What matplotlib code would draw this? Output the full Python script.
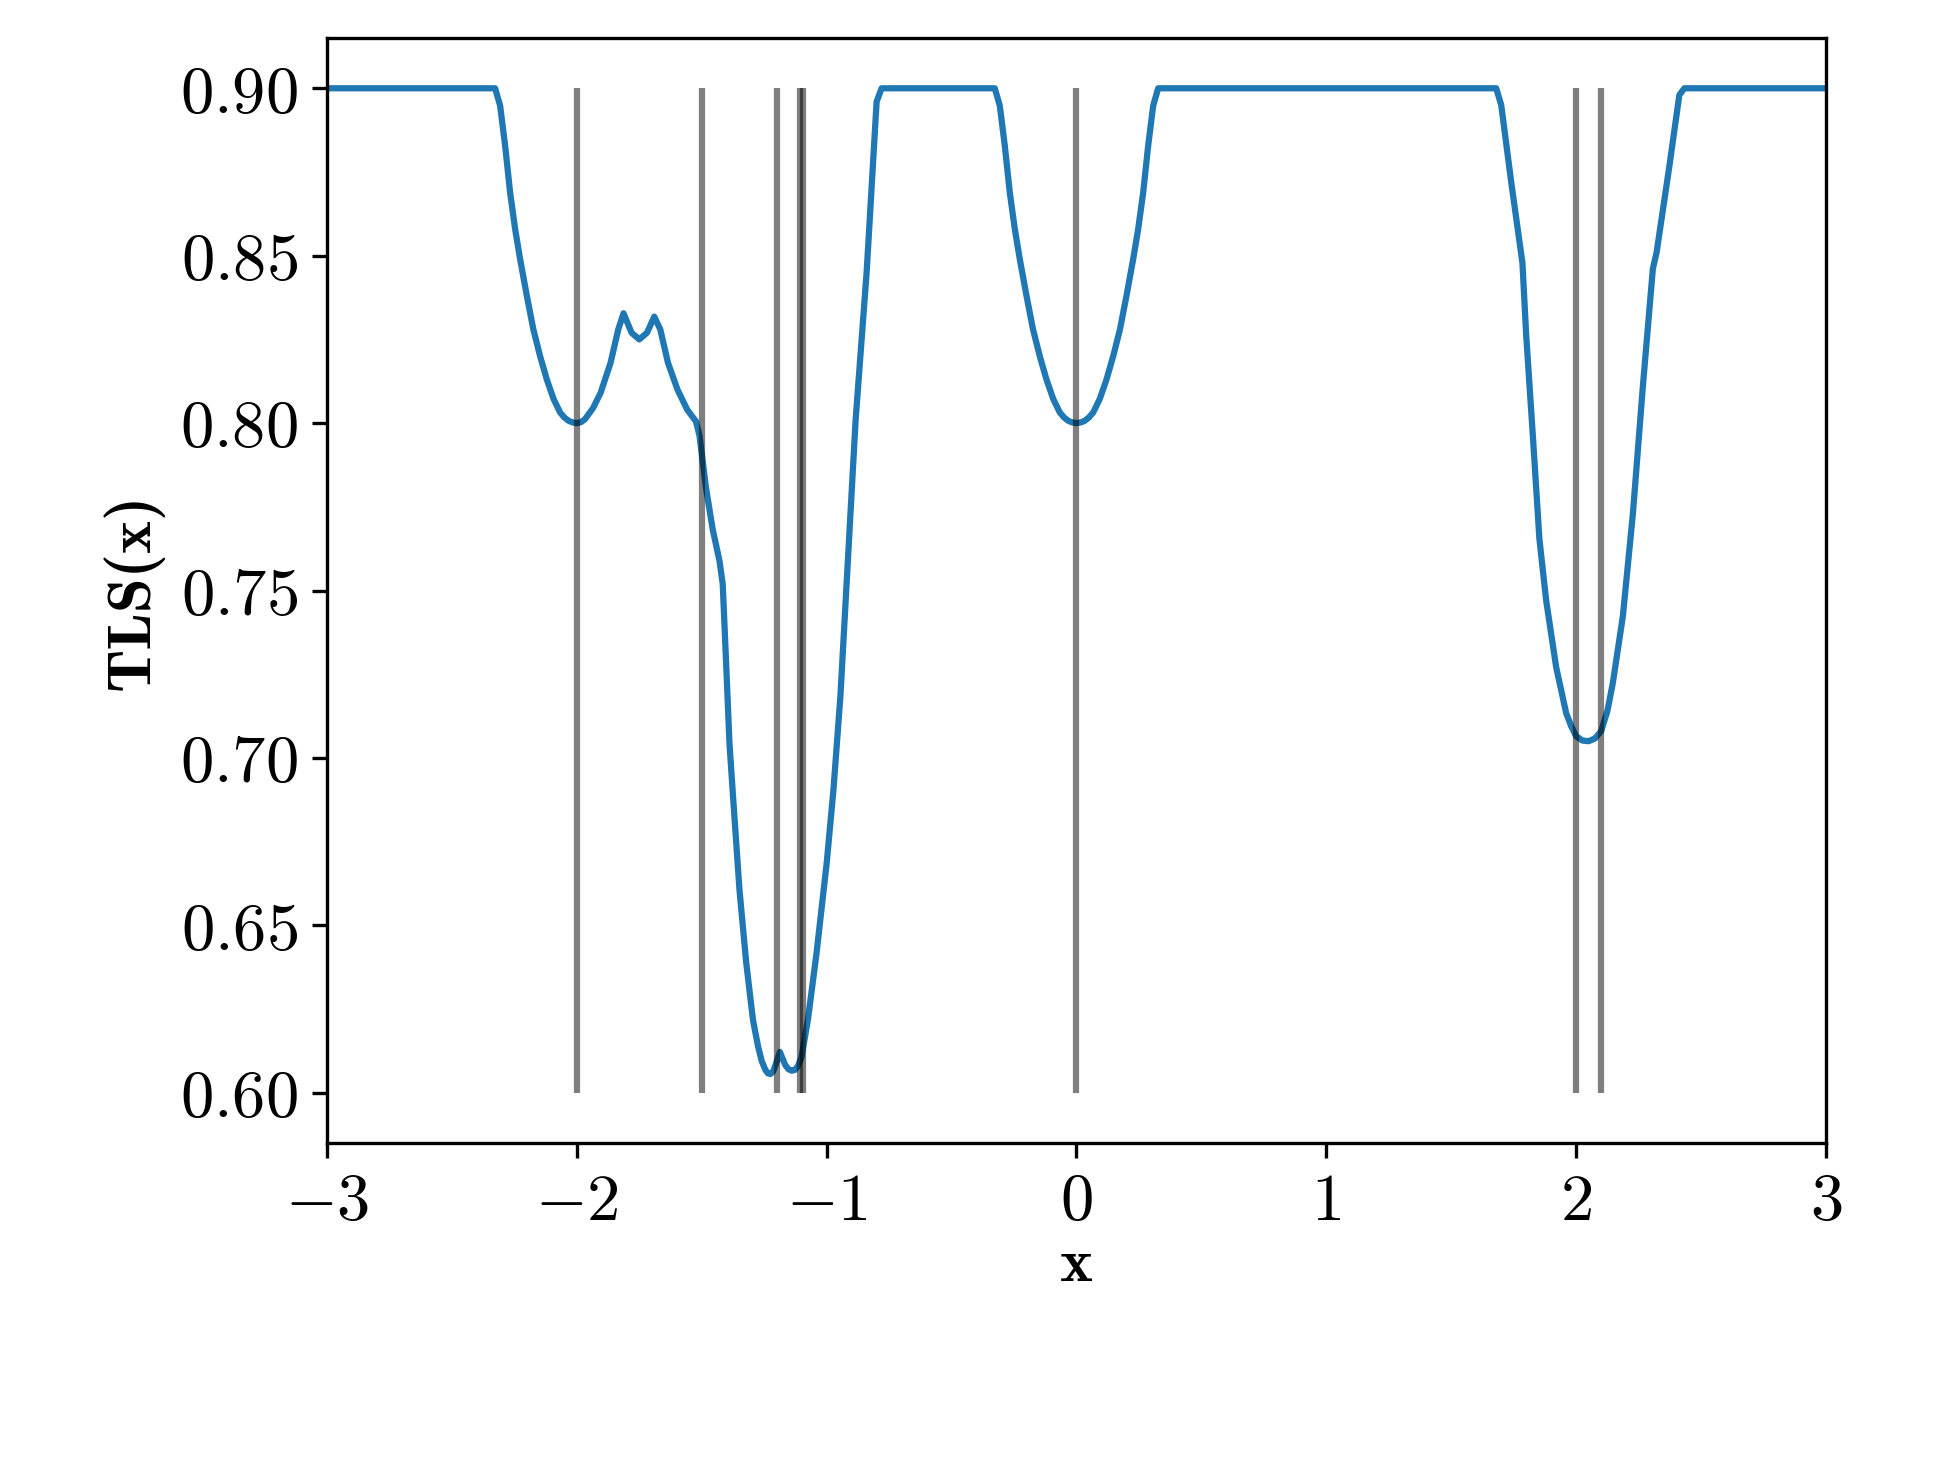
import matplotlib
matplotlib.use("Agg")
import matplotlib.pyplot as plt

# TLS(x) curve
x_vals = [-3.0, -2.327, -2.307, -2.287, -2.267, -2.247, -2.227, -2.200, -2.174,
          -2.147, -2.120, -2.093, -2.067, -2.050, -2.033, -2.017, -2.0,
          -1.983, -1.967, -1.935, -1.905, -1.865, -1.834, -1.813, -1.781, -1.750,
          -1.719, -1.690, -1.666, -1.635, -1.597, -1.558, -1.523,
          -1.509, -1.483, -1.456, -1.429, -1.416, -1.402, -1.389, -1.375, -1.349,
          -1.322, -1.295, -1.275, -1.260, -1.245, -1.235, -1.225, -1.215, -1.205,
          -1.195, -1.187, -1.178, -1.165, -1.152, -1.140, -1.128, -1.115, -1.101,
          -1.075, -1.040, -1.000, -0.973, -0.945, -0.915, -0.884, -0.840, -0.800,
          -0.780,
          -0.327, -0.307, -0.287, -0.267, -0.247, -0.227, -0.200, -0.174, -0.147,
          -0.120, -0.093, -0.067, -0.050, -0.033, -0.017, 0.0, 0.017, 0.033, 0.050,
          0.067, 0.093, 0.120, 0.147, 0.174, 0.200, 0.227, 0.247, 0.267, 0.287,
          0.307, 0.327,
          1.680, 1.700, 1.740, 1.785, 1.800, 1.827, 1.853, 1.880, 1.920, 1.960,
          1.980, 2.000, 2.025, 2.050, 2.075, 2.100, 2.125, 2.147, 2.187, 2.227,
          2.267, 2.307, 2.322, 2.373, 2.413, 2.433, 3.0]
tls_vals = [0.9, 0.9, 0.8948, 0.8829, 0.8689, 0.858, 0.849, 0.838, 0.828,
            0.820, 0.813, 0.8072, 0.8032, 0.8017, 0.8007, 0.8002, 0.800,
            0.8003, 0.8012, 0.8045, 0.809, 0.818, 0.828, 0.8328, 0.8270, 0.8250,
            0.8270, 0.8318, 0.828, 0.818, 0.810, 0.804, 0.8005,
            0.7963, 0.7807, 0.7682, 0.7589, 0.7519, 0.7277, 0.7044, 0.6888, 0.6607,
            0.6389, 0.6218, 0.6140, 0.6095, 0.6068, 0.6058, 0.6056, 0.6063, 0.6082,
            0.6105, 0.6122, 0.6105, 0.6082, 0.6070, 0.6066, 0.6068, 0.6080, 0.6105,
            0.6218, 0.6420, 0.6685, 0.6903, 0.7184, 0.7589, 0.8010, 0.8450, 0.8960,
            0.9,
            0.9, 0.8948, 0.8829, 0.8689, 0.858, 0.849, 0.838, 0.828, 0.820,
            0.813, 0.8072, 0.8032, 0.8017, 0.8007, 0.8002, 0.800, 0.8002, 0.8007, 0.8017,
            0.8032, 0.8072, 0.813, 0.820, 0.828, 0.838, 0.849, 0.858, 0.8689, 0.8829,
            0.8948, 0.9,
            0.9, 0.895, 0.872, 0.8478, 0.8263, 0.7958, 0.7653, 0.747, 0.7271, 0.7134,
            0.7095, 0.7065, 0.7052, 0.7050, 0.7058, 0.7080, 0.7140, 0.7225, 0.7424, 0.7729,
            0.811, 0.8461, 0.8510, 0.8767, 0.898, 0.9, 0.9]

# positions of the marked points (vertical lines)
marks = [-2.0, -1.5, -1.2, -1.105, -1.095, 0.0, 2.0, 2.1]
mark_lo = 0.6
mark_hi = 0.9

plt.rcParams['font.family'] = 'serif'
plt.rcParams['font.serif'] = ['cmr10']
plt.rcParams['mathtext.fontset'] = 'cm'
plt.rcParams['axes.formatter.use_mathtext'] = True
plt.rcParams['axes.unicode_minus'] = True

fig = plt.figure(figsize=(6.48, 4.8933), dpi=300)
ax = fig.add_axes([0.1682, 0.2207, 0.9393 - 0.1682, 0.9734 - 0.2207])

ax.plot(x_vals, tls_vals, color='#1f77b4', linewidth=1.5)
ax.vlines(marks, mark_lo, mark_hi, colors='k', alpha=0.5, linewidth=1.5)

ax.set_xlim(-3, 3)
ax.set_xticks([-3, -2, -1, 0, 1, 2, 3])
ax.set_yticks([0.6, 0.65, 0.7, 0.75, 0.8, 0.85, 0.9])
ax.tick_params(labelsize=16)

ax.set_xlabel('x', fontsize=15, fontfamily='cmb10', labelpad=1.5)
ax.set_ylabel('TLS(x)', fontsize=15, fontfamily='cmb10', labelpad=4)

plt.savefig('out.png', dpi=300)
